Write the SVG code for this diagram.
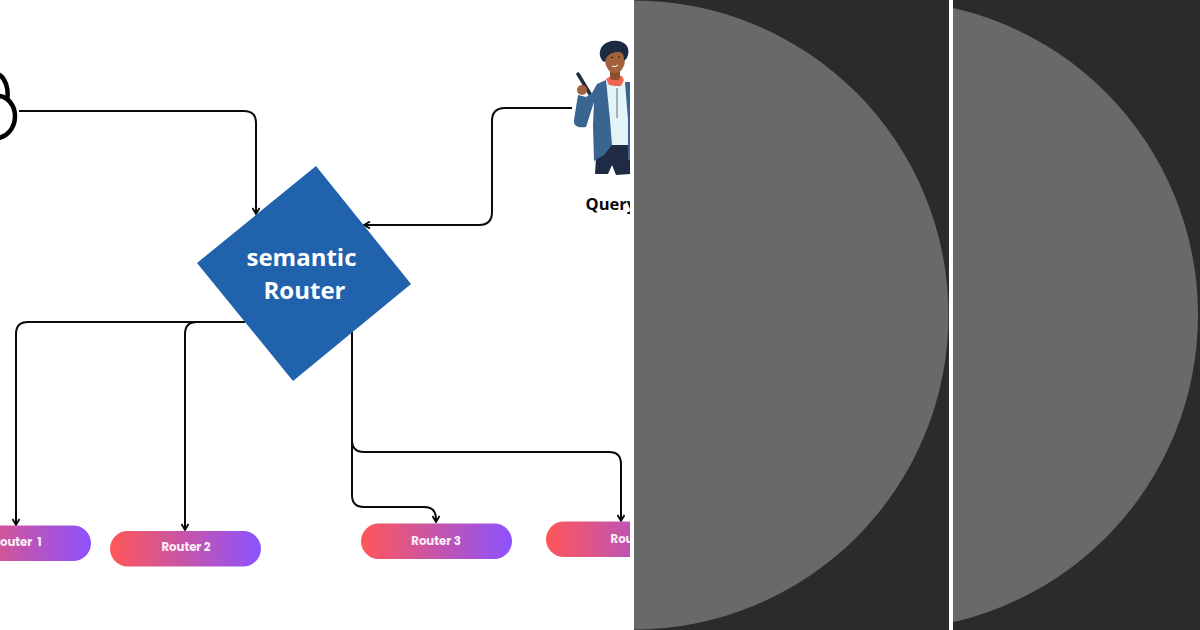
<svg xmlns="http://www.w3.org/2000/svg" width="1200" height="630" viewBox="0 0 1200 630">
<style>
.c{fill:none;stroke:#0a0a0a;stroke-width:2}
.r{font-family:Poppins,"Open Sans","Noto Sans",sans-serif;font-weight:700;font-size:11.700px;fill:#fbeef5;text-anchor:middle}
.t{font-family:"Open Sans","Noto Sans",sans-serif;font-weight:700;font-size:24px;fill:#fff;text-anchor:middle}
.p{fill:url(#g)}
.panel{fill:#2b2b2b}
.disc{fill:#696969}
</style>
<defs>
<marker id="a" markerWidth="9" markerHeight="8" refX="7" refY="4" orient="auto" markerUnits="userSpaceOnUse"><path d="M1 .5 L7 4 L1 7.500" fill="none" stroke="#0a0a0a" stroke-width="1.800"/></marker>
<linearGradient id="g"><stop offset="0" stop-color="#ff5757"/><stop offset="1" stop-color="#8c52ff"/></linearGradient>
<clipPath id="cm"><rect x="0" y="0" width="630" height="630"/></clipPath>
<clipPath id="p1"><rect x="634" y="0" width="315" height="630"/></clipPath>
<clipPath id="p2"><rect x="953" y="0" width="247" height="630"/></clipPath>
</defs>
<rect width="1200" height="630" fill="#fff"/>
<g id="cloud" fill="none" stroke="#000" stroke-width="4.500">
<path d="M-2 74 C6 78 9 90 7 100"/>
<path d="M-2 96 C8 96 15 106 15 116 C15 128 7 137 -2 138"/>
</g>
<g id="connectors">
<path class="c" d="M19 111 H244 Q256 111 256 123 V214" marker-end="url(#a)"/>
<path class="c" d="M572 108 H505 Q492 108 492 121 V212 Q492 225 479 225 H364" marker-end="url(#a)"/>
<path class="c" d="M245 322 H28 Q16 322 16 334 V525" marker-end="url(#a)"/>
<path class="c" d="M220 322 H197 Q185 322 185 334 V530" marker-end="url(#a)"/>
<path class="c" d="M352 332 V495 Q352 507 364 507 H424 Q436 507 436 519 V522" marker-end="url(#a)"/>
<path class="c" d="M352 430 V440 Q352 452 364 452 H609 Q621 452 621 464 V521" marker-end="url(#a)"/>
</g>
<g id="semantic-router">
<polygon points="316,166 411,284 293,381 197,263" fill="#2062ab"/>
<text class="t" x="301.500" y="266">semantic</text>
<text class="t" x="304.500" y="299">Router</text>
</g>
<g id="router-1"><rect class="p" x="-59" y="525.500" width="150" height="35.500" rx="17.700"/><text class="r" x="0" y="545.500" style="text-anchor:start">outer&#160; 1</text></g>
<g id="router-2"><rect class="p" x="110" y="531" width="151" height="35.500" rx="17.700"/><text class="r" x="186" y="551">Router 2</text></g>
<g id="router-3"><rect class="p" x="361" y="523.500" width="151" height="35.500" rx="17.700"/><text class="r" x="436" y="545">Router 3</text></g>
<g id="router-4" clip-path="url(#cm)"><rect class="p" x="546" y="521.500" width="151" height="35.500" rx="17.700"/><text class="r" x="622" y="543">Rou</text></g>
<g id="query" clip-path="url(#cm)">
<path d="M595 174 L597 140 H630 V174 L616 175 L612 165 L608 174 Z" fill="#1f2a44"/>
<path d="M606 82 L605 90 L610 145 H630 V82 Z" fill="#e3f4f8"/>
<path d="M578 74 L590 94" stroke="#1f2a44" stroke-width="3.500" stroke-linecap="round"/>
<circle cx="582" cy="90" r="5" fill="#a2613a"/>
<path d="M606 80 L610 120 L612 145 L604 155 L594 161 L593 125 L594 102 L586 127 C580 128 573 127 574 120 L578 95 L586 97 L592 93 L597 84 Z" fill="#3a6591"/>
<path d="M630 82 L625 82 L628 120 V160 H630 Z" fill="#3a6591"/>
<path d="M606 79 L611 76 H622 L624 80 L621 86 L615 86 L609 85 Z" fill="#f0674f"/>
<rect x="610" y="66" width="10" height="14" rx="3" fill="#8a4f2c"/>
<ellipse cx="615" cy="60" rx="10" ry="13" fill="#a2613a"/>
<path d="M600 56 C598 46 608 39 618 41 C626 42 630 48 628 55 C627 58 626 60 624 60 C624 54 622 51 616 52 C610 53 606 56 605 62 C603 62 601 59 600 56 Z" fill="#1c2a42"/>
<path d="M612 66 Q615 68 618 65" fill="none" stroke="#fff" stroke-width="1"/>
<path d="M611 57.500 h2 M618 57 h2" stroke="#222" stroke-width="1.200"/>
<path d="M617 88 V118" stroke="#5c7078" stroke-width="1"/>
<text x="585.500" y="210" font-family="'Open Sans','Noto Sans',sans-serif" font-weight="700" font-size="16.500" fill="#0a0a0a">Query</text>
</g>
<g id="panels">
<rect class="panel" x="634" y="0" width="315" height="630"/>
<circle class="disc" cx="634" cy="315" r="314.500" clip-path="url(#p1)"/>
<rect class="panel" x="953" y="0" width="247" height="630"/>
<circle class="disc" cx="883" cy="315" r="315" clip-path="url(#p2)"/>
</g>
</svg>
